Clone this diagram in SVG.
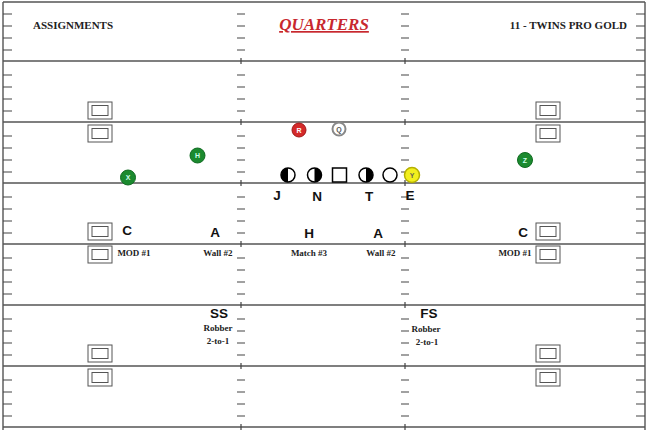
<svg xmlns="http://www.w3.org/2000/svg" width="648" height="430" viewBox="0 0 648 430">
<defs>
<style>
.fl{stroke:#555;stroke-width:1.4;fill:none}
.tk{stroke:#444;stroke-width:1.2;fill:none}
.bo{fill:#fff;stroke:#555;stroke-width:1}
.hd{font-family:"Liberation Serif",serif;font-weight:bold;font-size:11px;fill:#222}
.ti{font-family:"Liberation Serif",serif;font-weight:bold;font-style:italic;font-size:17px;fill:#c8282e;text-decoration:underline}
.lb{font-family:"Liberation Sans",Arial,sans-serif;font-weight:bold;font-size:13.5px;fill:#111;text-anchor:middle}
.sm{font-family:"Liberation Serif",serif;font-weight:bold;font-size:9px;fill:#222;text-anchor:middle}
.pl{font-family:"Liberation Sans",Arial,sans-serif;font-weight:bold;font-size:7px;text-anchor:middle}
.ln{stroke:#000;stroke-width:1.5}
</style>
<g id="box"><rect class="bo" x="0" y="0" width="24" height="17"/><rect class="bo" x="4" y="3.5" width="16" height="10"/></g>
</defs>
<rect width="648" height="430" fill="#fff"/>
<g id="field">
<path class="fl" d="M3 2H645M3 61H645M3 122H645M3 183H645M3 244H645M3 305H645M3 366H645M3 427H645M3 2V430M645 2V430"/>
<path class="tk" d="M3 14H12M3 26H12M3 38H12M3 50H12M3 75H12M3 87H12M3 99H12M3 111H12M3 136H12M3 148H12M3 160H12M3 172H12M3 197H12M3 209H12M3 221H12M3 233H12M3 258H12M3 270H12M3 282H12M3 294H12M3 319H12M3 331H12M3 343H12M3 355H12M3 380H12M3 392H12M3 404H12M3 416H12"/>
<path class="tk" d="M636 14H645M636 26H645M636 38H645M636 50H645M636 75H645M636 87H645M636 99H645M636 111H645M636 136H645M636 148H645M636 160H645M636 172H645M636 197H645M636 209H645M636 221H645M636 233H645M636 258H645M636 270H645M636 282H645M636 294H645M636 319H645M636 331H645M636 343H645M636 355H645M636 380H645M636 392H645M636 404H645M636 416H645"/>
<path class="tk" d="M237 14H245M237 26H245M237 38H245M237 50H245M237 75H245M237 87H245M237 99H245M237 111H245M237 136H245M237 148H245M237 160H245M237 172H245M237 197H245M237 209H245M237 221H245M237 233H245M237 258H245M237 270H245M237 282H245M237 294H245M237 319H245M237 331H245M237 343H245M237 355H245M237 380H245M237 392H245M237 404H245M237 416H245M241 58V64M241 119V125M241 180V186M241 241V247M241 302V308M241 363V369M241 424V430"/>
<path class="tk" d="M401 14H409M401 26H409M401 38H409M401 50H409M401 75H409M401 87H409M401 99H409M401 111H409M401 136H409M401 148H409M401 160H409M401 172H409M401 197H409M401 209H409M401 221H409M401 233H409M401 258H409M401 270H409M401 282H409M401 294H409M401 319H409M401 331H409M401 343H409M401 355H409M401 380H409M401 392H409M401 404H409M401 416H409M405 58V64M405 119V125M405 180V186M405 241V247M405 302V308M405 363V369M405 424V430"/>
</g>
<g id="header">
<text class="hd" x="33" y="29">ASSIGNMENTS</text>
<text class="ti" x="324" y="30" text-anchor="middle">QUARTERS</text>
<text class="hd" x="627" y="29" text-anchor="end">11 - TWINS PRO GOLD</text>
</g>
<g id="boxes">
<use href="#box" x="88" y="102"/><use href="#box" x="88" y="125"/>
<use href="#box" x="88" y="223"/><use href="#box" x="88" y="246"/>
<use href="#box" x="88" y="345"/><use href="#box" x="88" y="369"/>
<use href="#box" x="536" y="102"/><use href="#box" x="536" y="125"/>
<use href="#box" x="536" y="223"/><use href="#box" x="536" y="246"/>
<use href="#box" x="536" y="345"/><use href="#box" x="536" y="369"/>
</g>
<g id="player-R"><circle cx="299" cy="130" r="7" fill="#d42a2a" stroke="#a01818" stroke-width="1"/><text class="pl" x="299" y="132.5" fill="#fff">R</text></g>
<g id="player-Q"><circle cx="339" cy="129" r="6.5" fill="#fff" stroke="#888" stroke-width="2"/><text class="pl" x="339" y="131.5" fill="#555">Q</text></g>
<g id="player-H"><circle cx="197.5" cy="155.5" r="7.5" fill="#1b8a2f" stroke="#0f6a20" stroke-width="1"/><text class="pl" x="197.5" y="158" fill="#cfe">H</text></g>
<g id="player-X"><circle cx="128" cy="177.5" r="7.5" fill="#1b8a2f" stroke="#0f6a20" stroke-width="1"/><text class="pl" x="128" y="180" fill="#cfe">X</text></g>
<g id="player-Z"><circle cx="525" cy="160" r="7.5" fill="#1b8a2f" stroke="#0f6a20" stroke-width="1"/><text class="pl" x="525" y="162.5" fill="#cfe">Z</text></g>
<g id="player-Y"><circle cx="412" cy="175" r="7.5" fill="#f2ef1e" stroke="#b5b000" stroke-width="1.5"/><text class="pl" x="412" y="177.5" fill="#665">Y</text></g>
<g id="line-J"><circle class="ln" cx="288" cy="175" r="7" fill="#fff"/><path d="M288 168A7 7 0 0 0 288 182Z" fill="#000"/></g>
<g id="line-N"><circle class="ln" cx="314.5" cy="175" r="7" fill="#fff"/><path d="M314.5 168A7 7 0 0 1 314.5 182Z" fill="#000"/></g>
<g id="line-C"><rect class="ln" x="332.5" y="168" width="14" height="14" fill="#fff"/></g>
<g id="line-T"><circle class="ln" cx="366" cy="175" r="7" fill="#fff"/><path d="M366 168A7 7 0 0 1 366 182Z" fill="#000"/></g>
<g id="line-O"><circle class="ln" cx="390" cy="175" r="7" fill="#fff"/></g>
<g id="labels">
<text class="lb" x="277" y="200">J</text>
<text class="lb" x="317" y="201">N</text>
<text class="lb" x="369" y="201">T</text>
<text class="lb" x="410" y="200">E</text>
<text class="lb" x="127" y="235">C</text>
<text class="lb" x="215" y="237">A</text>
<text class="lb" x="309" y="238">H</text>
<text class="lb" x="378" y="238">A</text>
<text class="lb" x="523" y="237">C</text>
<text class="sm" x="134" y="256">MOD #1</text>
<text class="sm" x="218" y="256">Wall #2</text>
<text class="sm" x="309" y="256">Match #3</text>
<text class="sm" x="381" y="256">Wall #2</text>
<text class="sm" x="515" y="256">MOD #1</text>
<text class="lb" x="219" y="318">SS</text>
<text class="lb" x="429" y="318">FS</text>
<text class="sm" x="218" y="331">Robber</text>
<text class="sm" x="218" y="344">2-to-1</text>
<text class="sm" x="426" y="332">Robber</text>
<text class="sm" x="427" y="345">2-to-1</text>
</g>
</svg>
